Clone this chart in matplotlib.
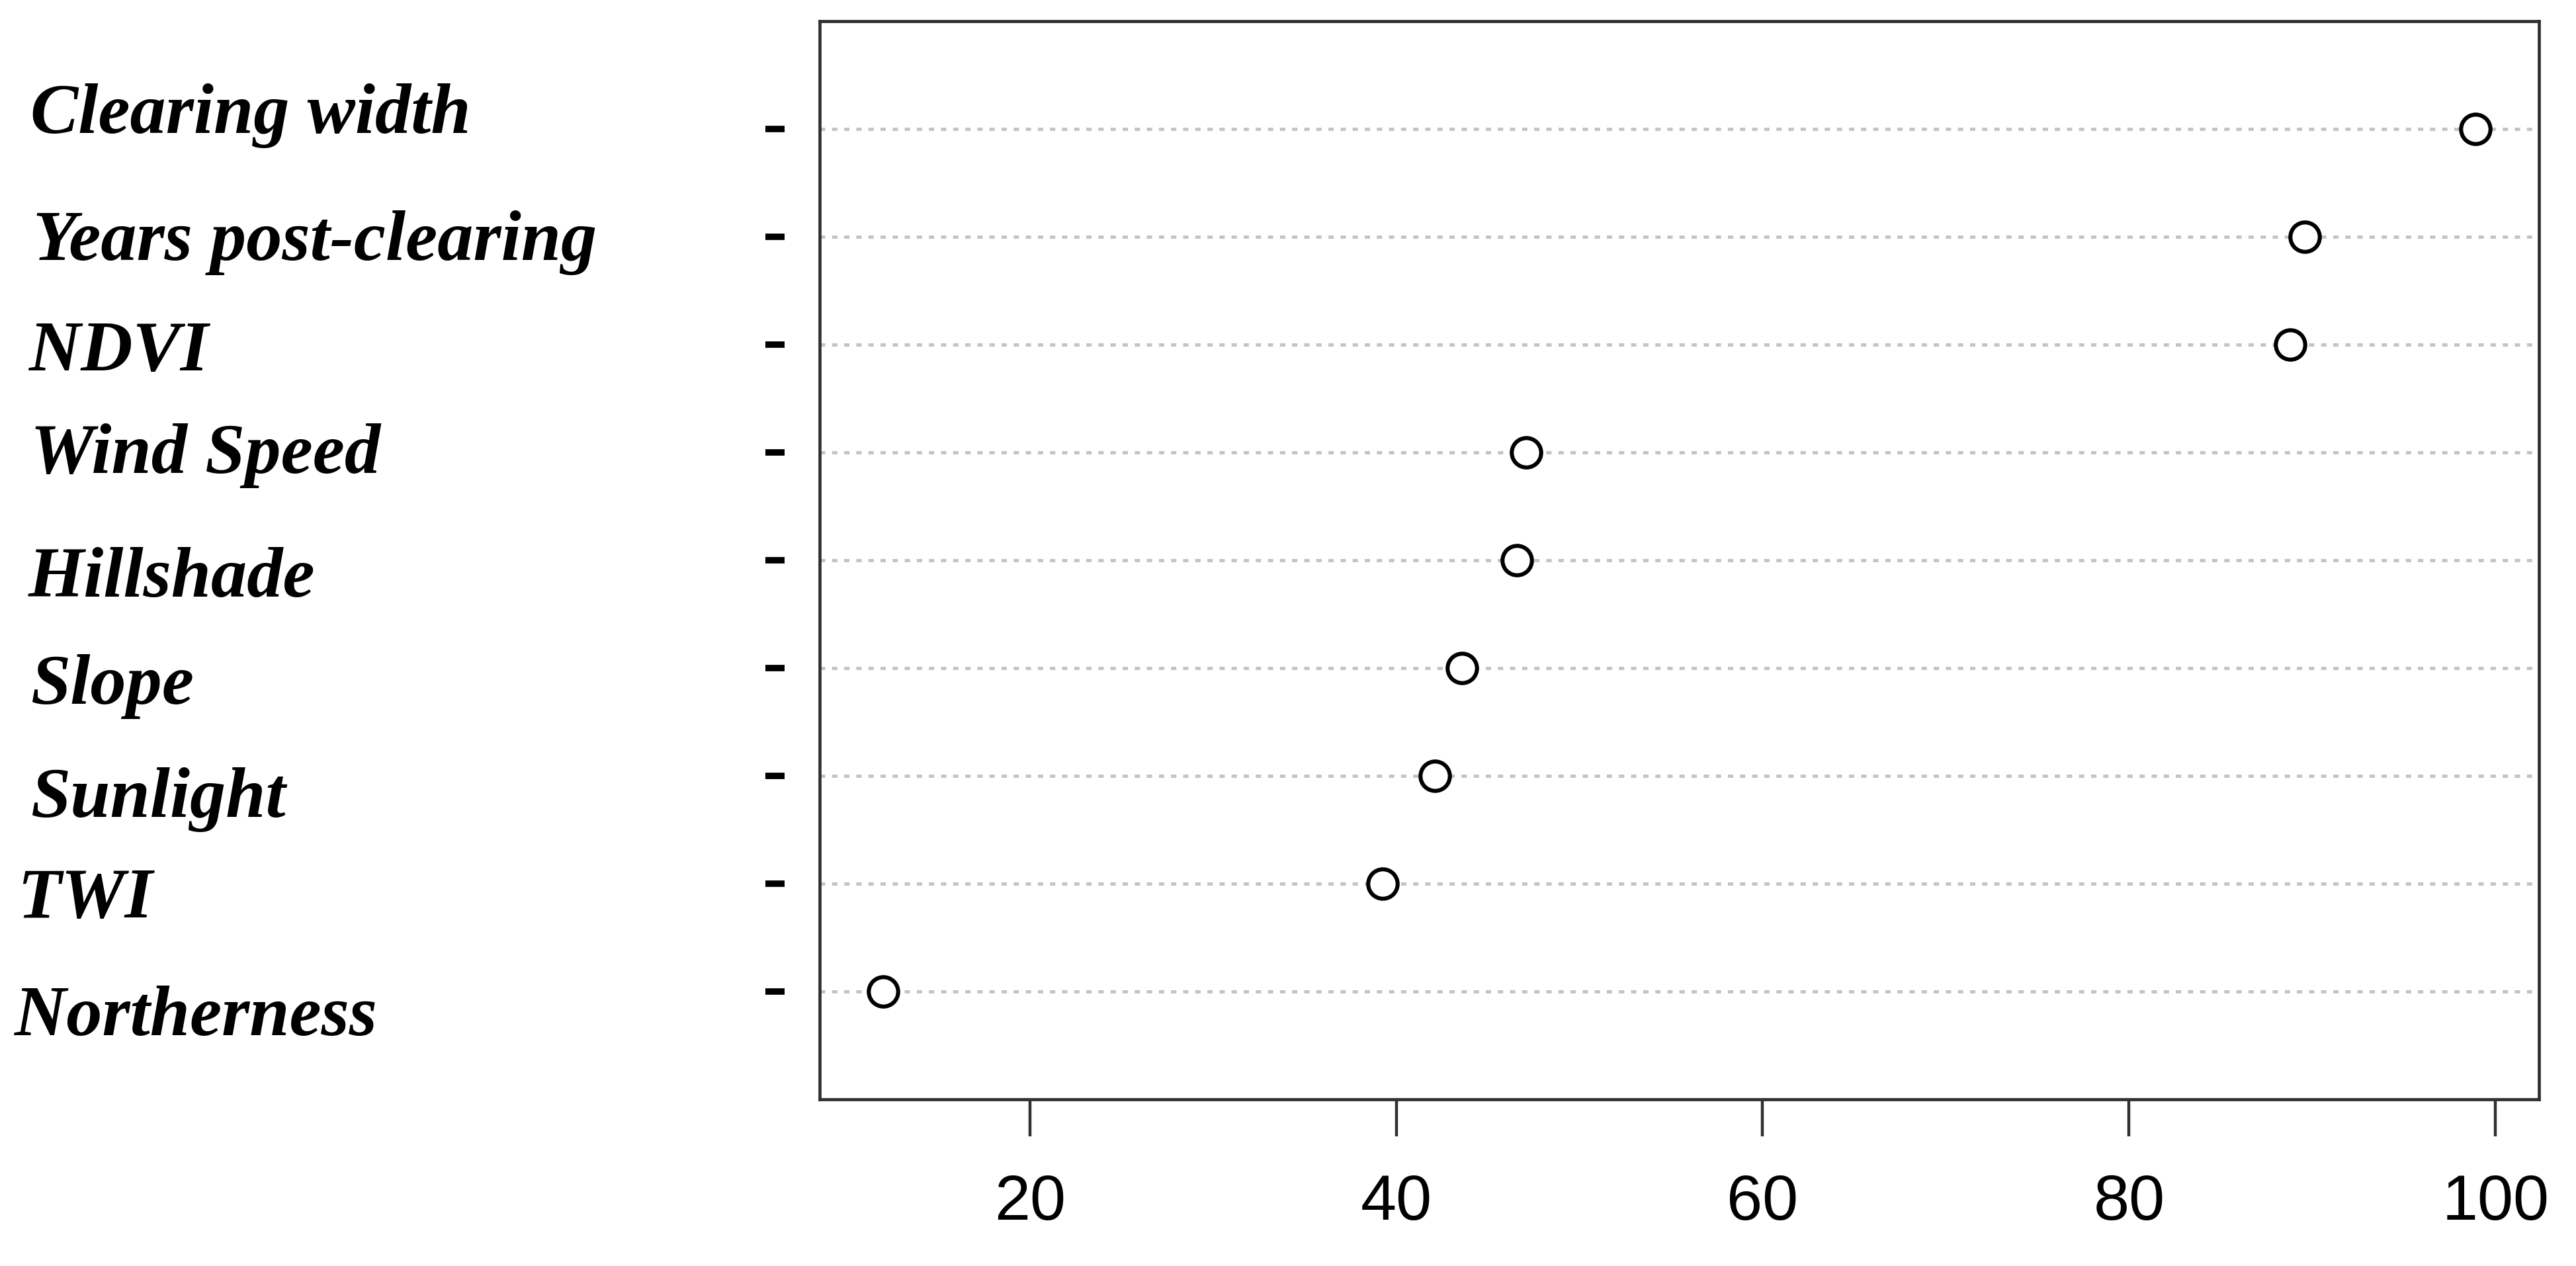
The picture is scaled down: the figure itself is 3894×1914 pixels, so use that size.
import matplotlib
matplotlib.use("Agg")
import matplotlib.pyplot as plt
import numpy as np
from matplotlib.transforms import blended_transform_factory

# ---------------- data ----------------
variables = ["Clearing width", "Years post-clearing", "NDVI", "Wind Speed",
             "Hillshade", "Slope", "Sunlight", "TWI", "Northerness"]
importance = [98.9, 89.6, 88.8, 47.1, 46.6, 43.6, 42.1, 39.25, 12.0]
x_ticks = [20, 40, 60, 80, 100]

# ---------------- layout / style ----------------
label_x_px = [46, 50, 44, 46, 43, 46, 46, 26, 22]        # left offset of labels (px)
label_baseline_px = [6, 35, 39, 31, 55, 54, 62, 51, 66]  # baseline below row (px)
PT = 0.72  # points per pixel at dpi 100

fig = plt.figure(figsize=(38.94, 19.14), dpi=100)
ax = fig.add_axes([0.3182, 0.1317, 0.9856 - 0.3182, 0.9833 - 0.1317])

n = len(variables)
ypos = np.arange(n, 0, -1)
span = max(importance) - min(importance)
ax.set_xlim(min(importance) - 0.04 * span, max(importance) + 0.04 * span)
ax.set_ylim(0, n + 1)

for y in ypos:
    ax.axhline(y, color="#c4c4c4", lw=3.6, linestyle=(0, (1.6, 2.06)), zorder=1)

ax.plot(importance, ypos, linestyle="none", marker="o", ms=32, mfc="white",
        mec="black", mew=4.4, zorder=3)

ax.set_yticks([])
ax.set_xticks(x_ticks)
ax.set_xticklabels([str(t) for t in x_ticks], fontsize=70, family="Liberation Sans")
ax.tick_params(axis="x", length=40, width=3.2, pad=41, color="#303030")
for s in ax.spines.values():
    s.set_linewidth(3.4)
    s.set_color("#303030")

# small dashes left of the box
trans = blended_transform_factory(ax.transAxes, ax.transData)
for y in ypos:
    ax.plot([-0.0316, -0.0204], [y, y], transform=trans, color="black", lw=7,
            solid_capstyle="butt", clip_on=False)

# category labels
ltrans = blended_transform_factory(fig.transFigure, ax.transData)
for i, (lab, y) in enumerate(zip(variables, ypos)):
    ax.annotate(lab, xy=(0, y), xycoords=ltrans,
                xytext=(label_x_px[i] * PT, -label_baseline_px[i] * PT),
                textcoords="offset points", ha="left", va="baseline",
                fontsize=78, fontstyle="italic", fontweight="bold",
                family="Liberation Serif", annotation_clip=False)

fig.savefig("out.png", dpi=100, facecolor="white")
